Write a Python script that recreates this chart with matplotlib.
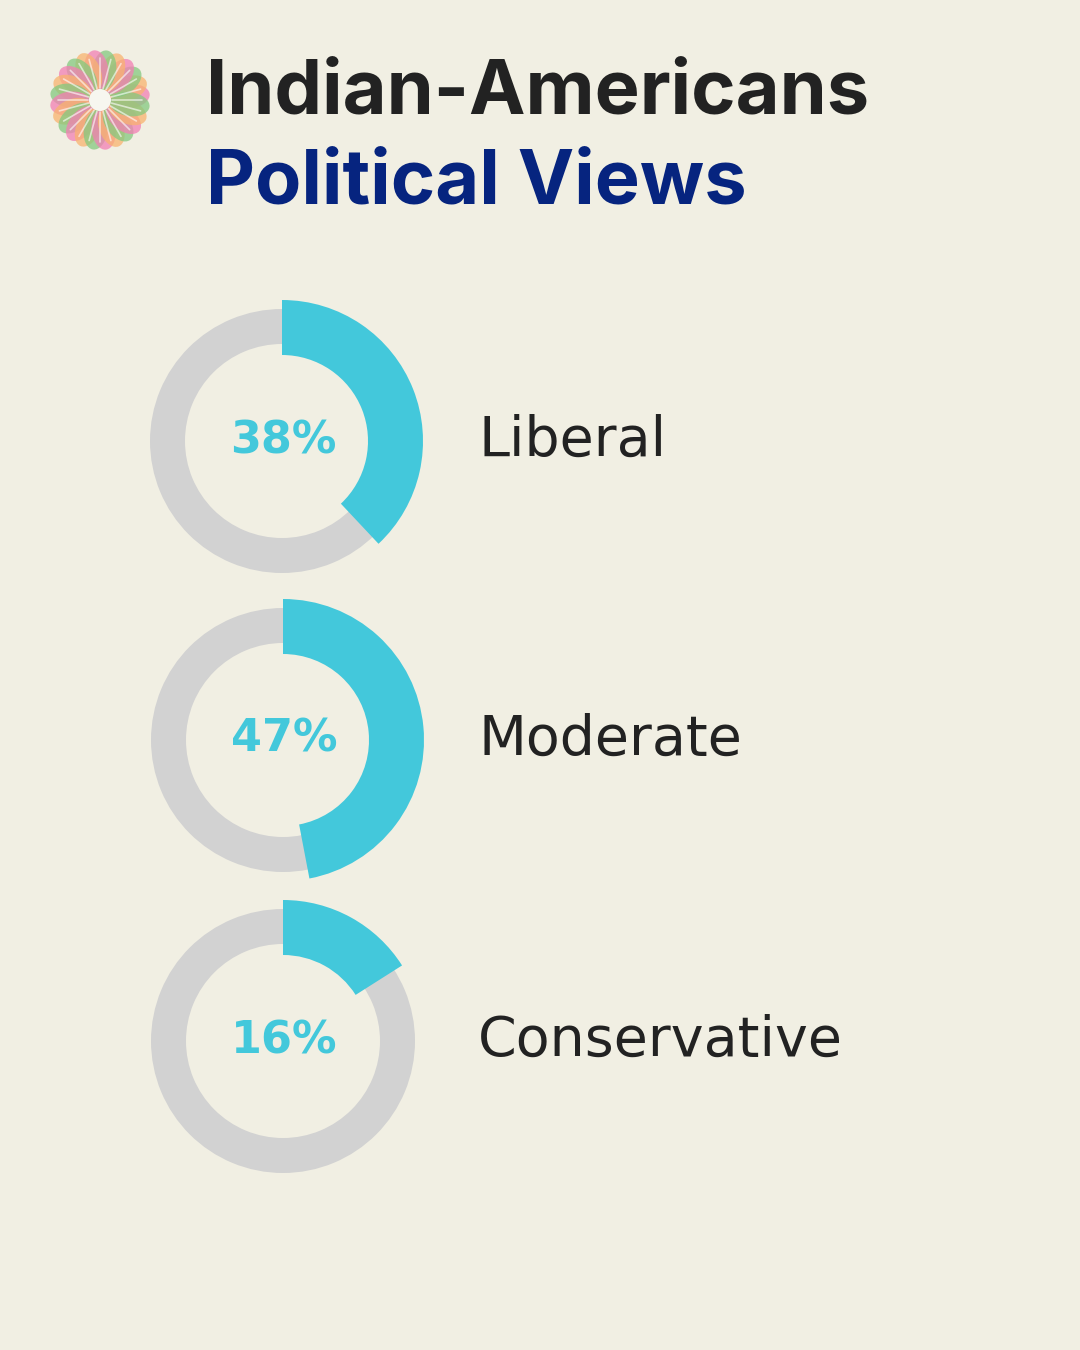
import numpy as np
import matplotlib
matplotlib.use("Agg")
import matplotlib.pyplot as plt
from matplotlib.patches import Ellipse, Circle

# data
categories = ["Liberal", "Moderate", "Conservative"]
shares = [38, 47, 16]
title_top = "Indian-Americans"
title_bottom = "Political Views"

BG = "#f1efe3"
BLUE = "#43c8db"
GREY = "#d2d2d2"
DARK = "#222222"
NAVY = "#06247f"

W, H = 1080, 1350
fig = plt.figure(figsize=(W / 100, H / 100), dpi=100, facecolor=BG)
ax = fig.add_axes([0, 0, 1, 1])
ax.set_facecolor(BG)


def Y(y):
    # pixel row (from top) to data y
    return H - y


# logo: flower of translucent petals
lx, ly = 100, 100
petal_cols = ["#f27fb3", "#f9b36f", "#84c97f"]
for i in range(24):
    a = np.deg2rad(i * 15 + 7)
    r = 30
    e = Ellipse((lx + r * np.cos(a), Y(ly) + r * np.sin(a)), 40, 24,
                angle=np.rad2deg(a), color=petal_cols[i % 3], alpha=0.75, lw=0)
    ax.add_patch(e)
for i in range(24):
    a = np.deg2rad(i * 15)
    ax.plot([lx + 12 * np.cos(a), lx + 42 * np.cos(a)],
            [Y(ly) + 12 * np.sin(a), Y(ly) + 42 * np.sin(a)],
            color="white", lw=1.2, alpha=0.6, solid_capstyle="round")
ax.add_patch(Circle((lx, Y(ly)), 11, color="#f7f6ef", lw=0))

# title
ax.text(206, Y(113), title_top, fontsize=54.5, fontweight="bold", family="Inter",
        color=DARK, ha="left", va="baseline")
ax.text(206, Y(203), title_bottom, fontsize=54.5, fontweight="bold", family="Inter",
        color=NAVY, ha="left", va="baseline")

# donuts
centers = [(282, 441), (283, 740), (283, 1041)]
for (cx, cy), cat, v in zip(centers, categories, shares):
    ax.pie([100], radius=132, center=(cx, Y(cy)), colors=[GREY],
           wedgeprops=dict(width=35, lw=0), frame=True)
    ax.pie([v, 100 - v], radius=141, center=(cx, Y(cy)), colors=[BLUE, "none"],
           startangle=90, counterclock=False,
           wedgeprops=dict(width=55, lw=0), frame=True)
    ax.text(cx + 1, Y(cy + 12), f"{v}%", fontsize=32, fontweight="bold",
            family="DejaVu Sans", color=BLUE, ha="center", va="baseline")
    ax.text(478, Y(cy + 15), cat, fontsize=40, family="DejaVu Sans",
            color=DARK, ha="left", va="baseline")

ax.set_xlim(0, W)
ax.set_ylim(0, H)
ax.set_aspect("auto")
ax.axis("off")

fig.savefig("out.png", dpi=100, facecolor=BG)
